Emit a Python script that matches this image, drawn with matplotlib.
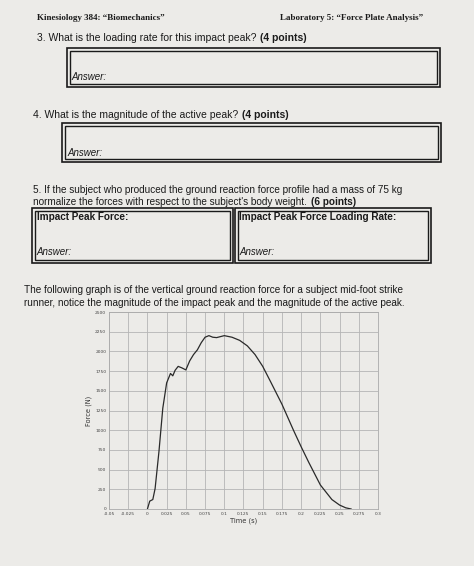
import matplotlib
matplotlib.use("Agg")
import matplotlib.pyplot as plt
from matplotlib.patches import Rectangle

time_s = [0.0, 0.003, 0.007, 0.01, 0.015, 0.02, 0.025, 0.03, 0.033, 0.036, 0.04, 0.045, 0.05, 0.055,
          0.06, 0.065, 0.07, 0.075, 0.08, 0.085, 0.09, 0.1, 0.11, 0.12, 0.13, 0.14, 0.15, 0.16,
          0.175, 0.19, 0.2, 0.21, 0.225, 0.24, 0.25, 0.258, 0.265]
force_n = [0, 100, 120, 260, 730, 1280, 1600, 1720, 1690, 1760, 1810, 1790, 1765, 1880,
           1960, 2020, 2110, 2180, 2200, 2180, 2175, 2200, 2180, 2140, 2070, 1960, 1810, 1620,
           1330, 1000, 790, 590, 305, 120, 50, 15, 0]
xticks = [-0.05, -0.025, 0, 0.025, 0.05, 0.075, 0.1, 0.125, 0.15, 0.175, 0.2, 0.225, 0.25, 0.275, 0.3]
xticklabels = ["-0.05", "-0.025", "0", "0.025", "0.05", "0.075", "0.1", "0.125", "0.15", "0.175",
               "0.2", "0.225", "0.25", "0.275", "0.3"]
yticks = [0, 250, 500, 750, 1000, 1250, 1500, 1750, 2000, 2250, 2500]

W, H = 474, 566
bg = "#ecebe8"
fig = plt.figure(figsize=(W/100, H/100), dpi=100, facecolor=bg)
renderer = fig.canvas.get_renderer()

def T(x, y, s, **kw):
    return fig.text(x/W, 1 - y/H, s, va="center", ha="left", color="#1a1a1a", **kw)

def T2(x, y, s1, s2, **kw):
    t = T(x, y, s1, **kw)
    bb = t.get_window_extent(renderer)
    T(bb.x1 + 4, y, s2, weight="bold", **kw)

def box(x0, y0, x1, y1, double=True):
    fig.patches.append(Rectangle((x0/W, 1-y1/H), (x1-x0)/W, (y1-y0)/H, transform=fig.transFigure,
                                 fill=False, lw=1.2, ec="#1a1a1a"))
    if double:
        fig.patches.append(Rectangle(((x0+3)/W, 1-(y1-3)/H), (x1-x0-6)/W, (y1-y0-6)/H,
                                     transform=fig.transFigure, fill=False, lw=1.0, ec="#1a1a1a"))

T(37, 18, "Kinesiology 384: \u201cBiomechanics\u201d", family="Liberation Serif", weight="bold", fontsize=6.5)
T(280, 18, "Laboratory 5: \u201cForce Plate Analysis\u201d", family="Liberation Serif", weight="bold", fontsize=6.5)
T2(37, 38, "3. What is the loading rate for this impact peak?", "(4 points)", family="Liberation Sans", fontsize=7.5)
box(67, 48, 440, 87)
T(71, 77, "Answer:", family="Liberation Sans", fontsize=7, style="italic")
T2(33, 115, "4. What is the magnitude of the active peak?", "(4 points)", family="Liberation Sans", fontsize=7.5)
box(62, 123, 441, 162)
T(67, 153, "Answer:", family="Liberation Sans", fontsize=7, style="italic")
T(33, 190, "5. If the subject who produced the ground reaction force profile had a mass of 75 kg",
  family="Liberation Sans", fontsize=7.2)
T2(33, 202, "normalize the forces with respect to the subject's body weight.", "(6 points)",
   family="Liberation Sans", fontsize=7.2)
box(32, 208, 233, 263)
box(235, 208, 431, 263)
T(37, 217, "Impact Peak Force:", family="Liberation Sans", fontsize=7.2, weight="bold")
T(239, 217, "Impact Peak Force Loading Rate:", family="Liberation Sans", fontsize=7.2, weight="bold")
T(36, 252, "Answer:", family="Liberation Sans", fontsize=7, style="italic")
T(239, 252, "Answer:", family="Liberation Sans", fontsize=7, style="italic")
T(24, 290, "The following graph is of the vertical ground reaction force for a subject mid-foot strike",
  family="Liberation Sans", fontsize=7.2)
T(24, 303, "runner, notice the magnitude of the impact peak and the magnitude of the active peak.",
  family="Liberation Sans", fontsize=7.2)

ax = fig.add_axes([109/W, 1-509/H, (378-109)/W, (509-312)/H])
ax.set_facecolor(bg)
ax.plot(time_s, force_n, color="#2a2a2a", lw=0.9)
ax.set_xlim(-0.05, 0.3)
ax.set_ylim(0, 2500)
ax.set_xticks(xticks)
ax.set_xticklabels(xticklabels)
ax.set_yticks(yticks)
ax.tick_params(labelsize=3.2, length=0, pad=2, colors="#444444")
ax.grid(True, color="#b5b5b5", lw=0.6)
for s in ax.spines.values():
    s.set_color("#aaaaaa"); s.set_linewidth(0.6)
ax.set_xlabel("Time (s)", fontsize=4.8, labelpad=1, color="#333333")
ax.set_ylabel("Force (N)", fontsize=4.8, labelpad=2, color="#333333")

fig.savefig("out.png", dpi=100, facecolor=bg)
